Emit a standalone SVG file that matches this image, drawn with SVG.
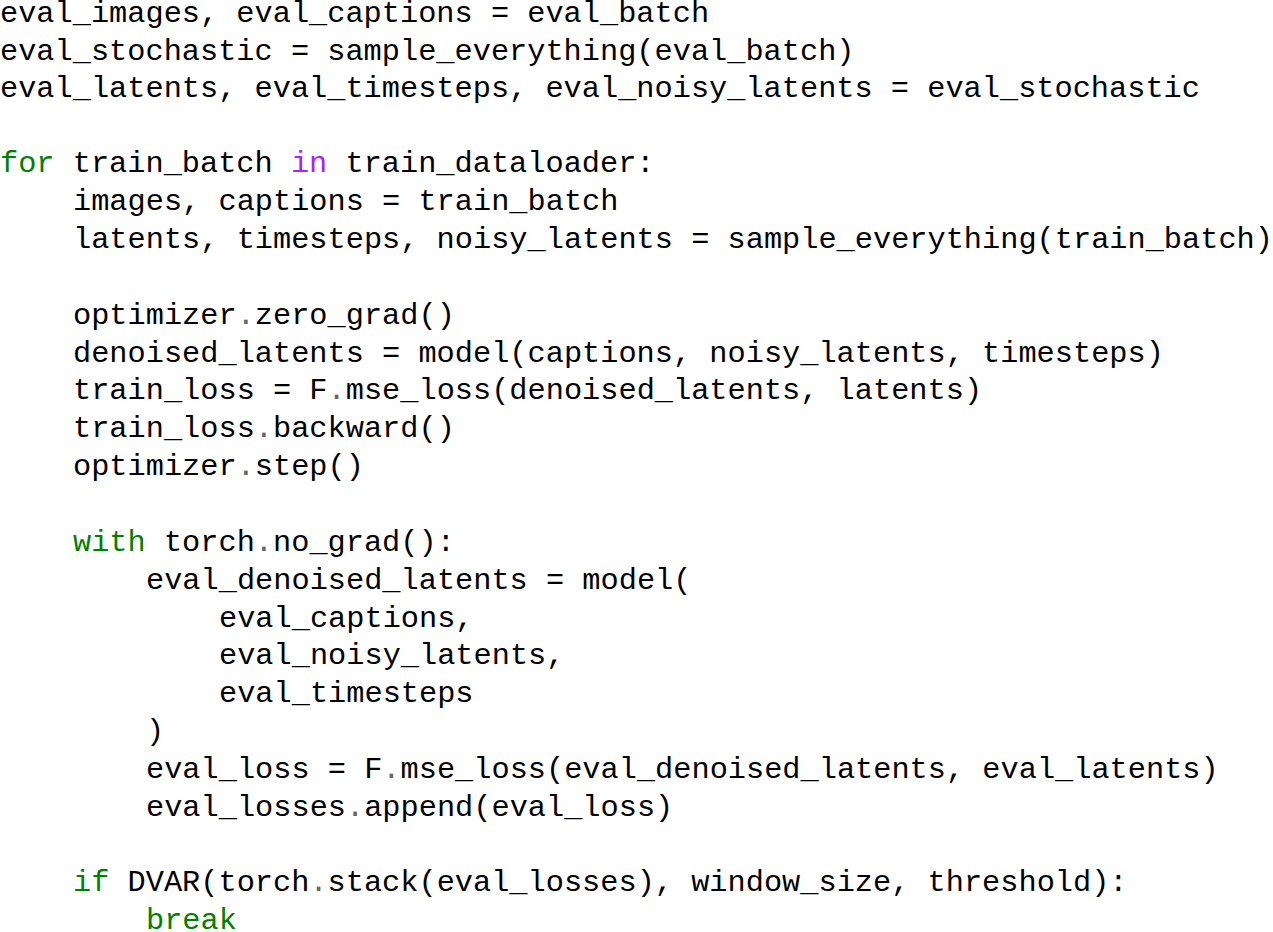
<svg xmlns="http://www.w3.org/2000/svg" width="1273" height="932" viewBox="0 0 1273 932">
<style>
text{font-family:"Liberation Mono","DejaVu Sans Mono",monospace;font-size:30.3px;fill:#000;white-space:pre}
.k{fill:#008000}.p{fill:#AA22FF}.d{fill:#666666}
</style>
<rect width="1273" height="932" fill="#fff"/>
<text x="0" y="22">eval_images, eval_captions = eval_batch</text>
<text x="0" y="60">eval_stochastic = sample_everything(eval_batch)</text>
<text x="0" y="97">eval_latents, eval_timesteps, eval_noisy_latents = eval_stochastic</text>
<text x="0" y="172"><tspan class="k">for</tspan> train_batch <tspan class="p">in</tspan> train_dataloader:</text>
<text x="73" y="210">images, captions = train_batch</text>
<text x="73" y="248">latents, timesteps, noisy_latents = sample_everything(train_batch)</text>
<text x="73" y="324">optimizer<tspan class="d">.</tspan>zero_grad()</text>
<text x="73" y="362">denoised_latents = model(captions, noisy_latents, timesteps)</text>
<text x="73" y="399">train_loss = F<tspan class="d">.</tspan>mse_loss(denoised_latents, latents)</text>
<text x="73" y="437">train_loss<tspan class="d">.</tspan>backward()</text>
<text x="73" y="475">optimizer<tspan class="d">.</tspan>step()</text>
<text x="73" y="551"><tspan class="k">with</tspan> torch<tspan class="d">.</tspan>no_grad():</text>
<text x="146" y="589">eval_denoised_latents = model(</text>
<text x="219" y="627">eval_captions,</text>
<text x="219" y="664">eval_noisy_latents,</text>
<text x="219" y="702">eval_timesteps</text>
<text x="146" y="740">)</text>
<text x="146" y="778">eval_loss = F<tspan class="d">.</tspan>mse_loss(eval_denoised_latents, eval_latents)</text>
<text x="146" y="816">eval_losses<tspan class="d">.</tspan>append(eval_loss)</text>
<text x="73" y="891"><tspan class="k">if</tspan> DVAR(torch<tspan class="d">.</tspan>stack(eval_losses), window_size, threshold):</text>
<text x="146" y="929" class="k">break</text>
</svg>
